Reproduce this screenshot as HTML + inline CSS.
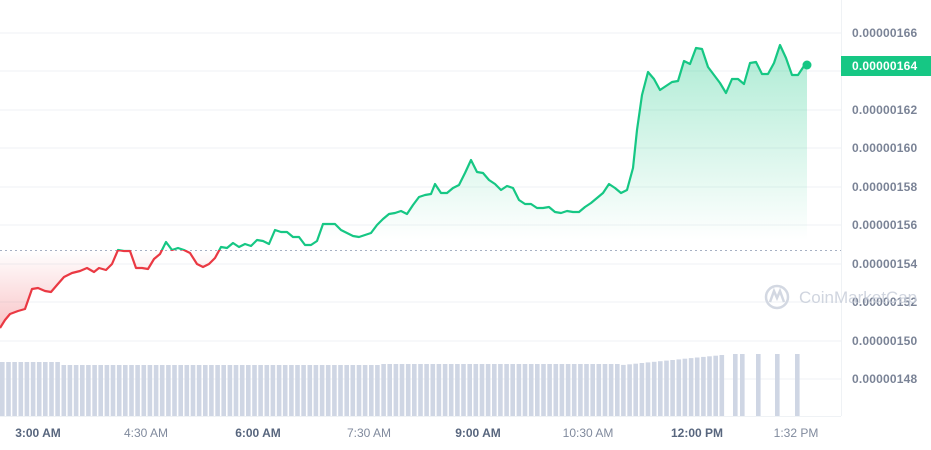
<!DOCTYPE html>
<html><head><style>
body{margin:0;background:#fff;width:931px;height:445px;overflow:hidden;font-family:"Liberation Sans",sans-serif}
svg text{font-family:"Liberation Sans",sans-serif}
</style></head><body>
<svg id="s" width="931" height="445" xmlns="http://www.w3.org/2000/svg">
<defs>
<linearGradient id="rg" x1="0" y1="250" x2="0" y2="330" gradientUnits="userSpaceOnUse"><stop offset="0" stop-color="#ea3943" stop-opacity="0"/><stop offset="1" stop-color="#ea3943" stop-opacity="0.3"/></linearGradient>
<linearGradient id="gg2" x1="0" y1="45" x2="0" y2="240" gradientUnits="userSpaceOnUse"><stop offset="0" stop-color="#16c784" stop-opacity="0.35"/><stop offset="1" stop-color="#16c784" stop-opacity="0"/></linearGradient>
<clipPath id="above"><rect x="0" y="0" width="841" height="250"/></clipPath>
<clipPath id="below"><rect x="0" y="250" width="841" height="200"/></clipPath>
</defs>
<g stroke="#eff2f5" stroke-width="1">
<line x1="0" x2="841" y1="33" y2="33"/><line x1="0" x2="841" y1="71" y2="71"/><line x1="0" x2="841" y1="110" y2="110"/><line x1="0" x2="841" y1="148" y2="148"/><line x1="0" x2="841" y1="187" y2="187"/><line x1="0" x2="841" y1="225" y2="225"/><line x1="0" x2="841" y1="264" y2="264"/><line x1="0" x2="841" y1="302" y2="302"/><line x1="0" x2="841" y1="341" y2="341"/><line x1="0" x2="841" y1="379" y2="379"/>
</g>
<line x1="841.5" x2="841.5" y1="0" y2="416" stroke="#eff2f5"/>
<line x1="0" x2="841" y1="416.5" y2="416.5" stroke="#eff2f5"/>
<g id="bars" fill="#cfd6e4"></g>
<path id="fillG" clip-path="url(#above)" fill="url(#gg2)"/>
<path id="fillR" clip-path="url(#below)" fill="url(#rg)"/>
<line x1="0" x2="841" y1="250.5" y2="250.5" stroke="#a6b0c3" stroke-dasharray="2,3"/>
<path id="lineG" clip-path="url(#above)" fill="none" stroke="#16c784" stroke-width="2.2" stroke-linejoin="round"/>
<path id="lineR" clip-path="url(#below)" fill="none" stroke="#ea3943" stroke-width="2.2" stroke-linejoin="round"/>
<circle cx="807" cy="65" r="4.5" fill="#16c784"/>
<g font-size="12" fill="#7a8396" font-weight="bold" letter-spacing="0.2">
<text x="852" y="37">0.00000166</text>
<text x="852" y="114">0.00000162</text><text x="852" y="152">0.00000160</text>
<text x="852" y="191">0.00000158</text><text x="852" y="229">0.00000156</text>
<text x="852" y="268">0.00000154</text><text x="852" y="306">0.00000152</text>
<text x="852" y="345">0.00000150</text><text x="852" y="383">0.00000148</text>
</g>
<circle cx="777" cy="297" r="11" fill="none" stroke="#d3d8e2" stroke-width="2.5"/>
<path d="M770,302 L774,291 L777,298 L780,291 L784,302" fill="none" stroke="#d3d8e2" stroke-width="2.5"/>
<text x="799" y="303" font-size="17" fill="#c8ceda" opacity="0.85">CoinMarketCap</text>
<rect x="841" y="56" width="90" height="20" fill="#16c784"/>
<text x="852" y="70" font-size="12" font-weight="bold" fill="#fff" letter-spacing="0.2">0.00000164</text>
<g font-size="12" text-anchor="middle" font-weight="bold">
<text x="38" y="437" fill="#58667e">3:00 AM</text>
<text x="146" y="437" fill="#808a9d" font-weight="normal">4:30 AM</text>
<text x="258" y="437" fill="#58667e">6:00 AM</text>
<text x="369" y="437" fill="#808a9d" font-weight="normal">7:30 AM</text>
<text x="478" y="437" fill="#58667e">9:00 AM</text>
<text x="588" y="437" fill="#808a9d" font-weight="normal">10:30 AM</text>
<text x="697" y="437" fill="#58667e">12:00 PM</text>
<text x="796" y="437" fill="#808a9d" font-weight="normal">1:32 PM</text>
</g>
</svg>
<script>
var p=[[0,328],[5,320],[10,314],[18,311],[25,309],[32,289],[38,288],[45,291],[51,292],[57,285],[64,277],[72,273],[80,271],[87,268],[94,272],[99,268],[106,270],[112,264],[118,250],[124,251],[130,251],[136,268],[142,268],[148,269],[154,259],[160,254],[166,242],[172,250],[178,248],[184,250],[190,253],[197,264],[203,267],[209,264],[215,258],[221,247],[227,248],[233,243],[239,247],[245,244],[251,246],[257,240],[263,241],[269,244],[275,230],[281,232],[287,232],[293,237],[299,237],[305,245],[311,245],[317,241],[323,224],[329,224],[335,224],[341,230],[347,233],[353,236],[359,237],[365,235],[371,233],[377,225],[383,219],[389,214],[395,213],[401,211],[407,214],[413,205],[419,197],[425,195],[431,194],[435,184],[441,193],[447,193],[453,188],[459,185],[465,173],[471,160],[477,172],[483,173],[489,180],[495,184],[501,190],[507,186],[513,188],[519,200],[525,204],[531,204],[537,208],[543,208],[549,207],[555,212],[561,213],[567,211],[573,212],[579,212],[585,207],[591,203],[597,198],[603,193],[609,184],[615,188],[621,193],[627,190],[633,168],[637,130],[642,95],[648,72],[654,79],[660,90],[666,86],[672,82],[678,81],[684,61],[690,64],[696,48],[702,49],[708,67],[714,75],[720,83],[726,93],[732,79],[738,79],[744,84],[750,63],[756,62],[762,74],[768,74],[774,63],[780,45],[786,58],[792,75],[798,75],[804,66],[807,65]];
var d="M"+p.map(function(a){return a.join(",")}).join("L");
document.getElementById("lineG").setAttribute("d",d);
document.getElementById("lineR").setAttribute("d",d);
var f=d+"L807,250L0,250Z";
document.getElementById("fillG").setAttribute("d",f);
document.getElementById("fillR").setAttribute("d",f);
var g=document.getElementById("bars"),h="";
for(var x=0;x<722;x+=6.15){var t=x<60?362:(x<620?365-(x>380?1:0):365-(x-620)/100*10);h+='<rect x="'+x.toFixed(1)+'" y="'+t.toFixed(1)+'" width="4.6" height="'+(416-t).toFixed(1)+'"/>';}
[733,740,756,775,795].forEach(function(x){h+='<rect x="'+x+'" y="354" width="4.6" height="62"/>';});
g.innerHTML=h;
</script>
</body></html>
